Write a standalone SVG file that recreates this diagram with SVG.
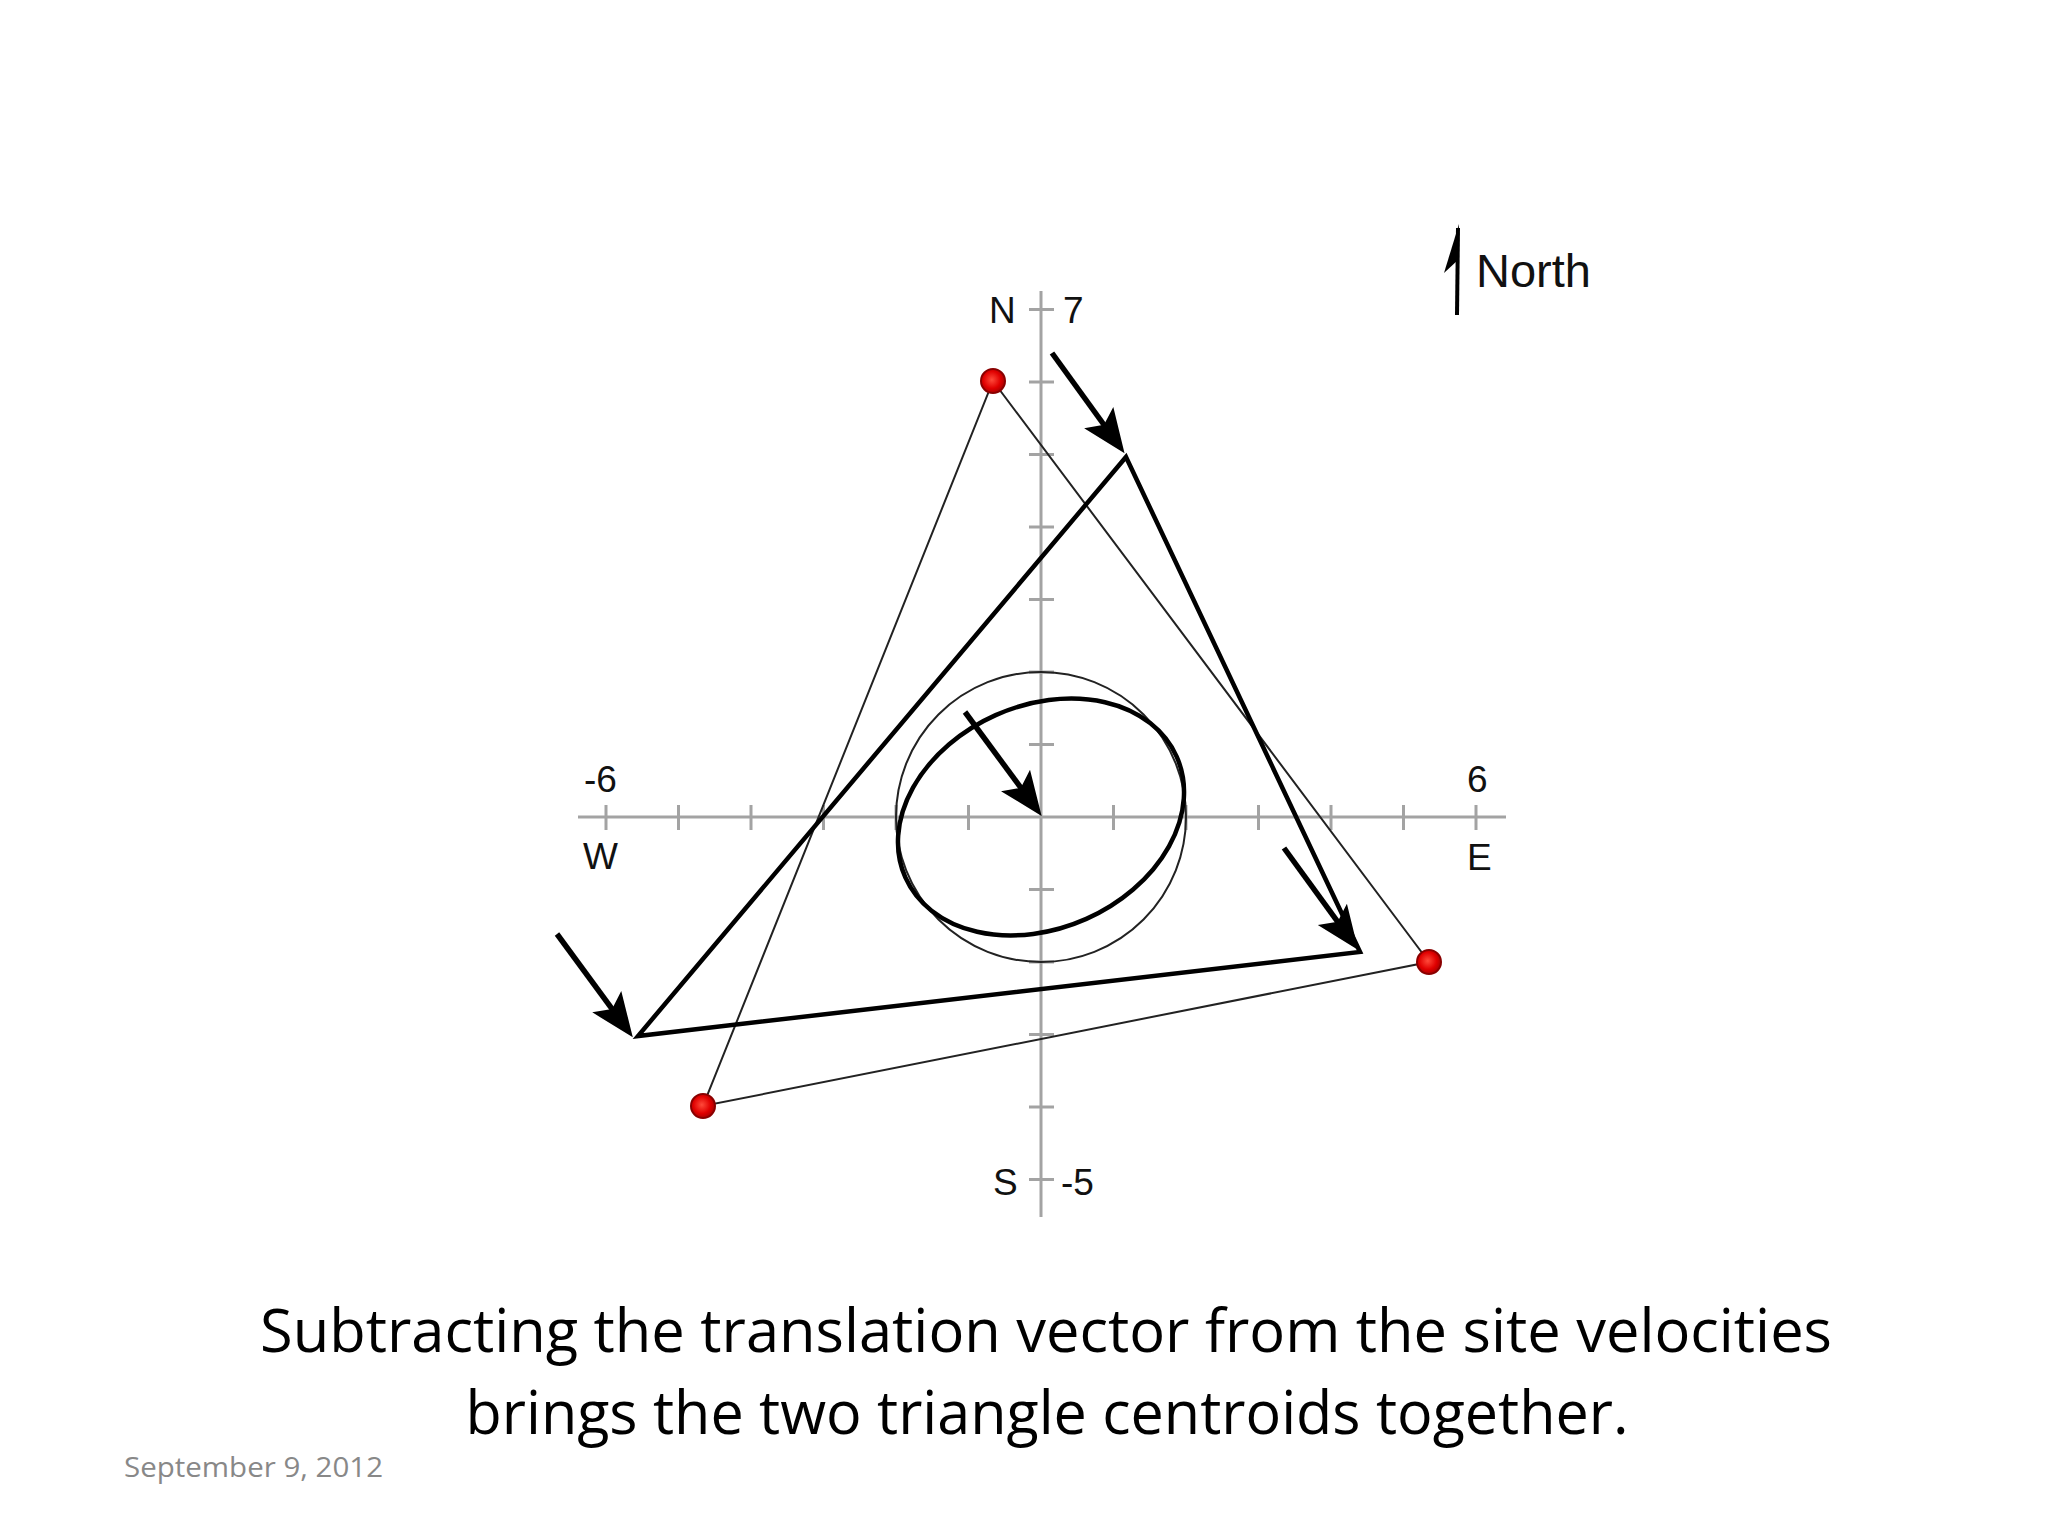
<svg xmlns="http://www.w3.org/2000/svg" width="2048" height="1536" viewBox="0 0 2048 1536">
<style>
.axis{stroke:#a3a3a3;stroke-width:3;fill:none}
.lbl{font-family:"Liberation Sans",Arial,sans-serif;font-size:37px;fill:#111}
.thin{stroke:#222;stroke-width:2;fill:none}
.thick{stroke:#000;stroke-width:4.5;fill:none;stroke-linejoin:miter}
.arr{stroke:#000;stroke-width:5.5;fill:none;marker-end:url(#ah)}
.dot{fill:url(#rg);stroke:#8a0000;stroke-width:2}
.cap{font-family:"Open Sans","Noto Sans",sans-serif;font-size:60px;fill:#000}
</style>
<defs>
<marker id="ah" markerUnits="userSpaceOnUse" viewBox="-50 -25 70 50" markerWidth="70" markerHeight="50" refX="-12" refY="0" orient="auto">
<path d="M0,0 L-44,-18 L-35,0 L-44,18 Z" fill="#000"/>
</marker>
<radialGradient id="rg" cx="0.45" cy="0.45" r="0.6">
<stop offset="0" stop-color="#ff4a3a"/>
<stop offset="0.6" stop-color="#e00000"/>
<stop offset="1" stop-color="#a00000"/>
</radialGradient>
</defs>
<rect width="2048" height="1536" fill="#fff"/>
<g id="axes">
<line class="axis" x1="578" y1="817" x2="1506" y2="817"/>
<line class="axis" x1="1041" y1="291" x2="1041" y2="1217"/>
<path class="axis" d="M606,805v25 M678.5,805v25 M751,805v25 M823.5,805v25 M896,805v25 M968.5,805v25 M1113.5,805v25 M1186,805v25 M1258.5,805v25 M1331,805v25 M1403.5,805v25 M1476,805v25"/>
<path class="axis" d="M1029,309.5h25 M1029,382h25 M1029,454.5h25 M1029,527h25 M1029,599.5h25 M1029,672h25 M1029,744.5h25 M1029,889.5h25 M1029,962h25 M1029,1034.5h25 M1029,1107h25 M1029,1179.5h25"/>
<text class="lbl" x="989" y="323">N</text>
<text class="lbl" x="1063" y="323">7</text>
<text class="lbl" x="584" y="792">-6</text>
<text class="lbl" x="583" y="869">W</text>
<text class="lbl" x="1467" y="792">6</text>
<text class="lbl" x="1467" y="870">E</text>
<text class="lbl" x="993" y="1195">S</text>
<text class="lbl" x="1061" y="1195">-5</text>
</g>
<g id="north">
<line x1="1457" y1="315" x2="1458" y2="228" stroke="#000" stroke-width="4"/>
<polygon points="1459,224 1444,273 1458,260" fill="#000"/>
<text x="1476" y="287" font-family="Liberation Sans,Arial,sans-serif" font-size="47" fill="#111">North</text>
</g>
<g id="circles">
<circle class="thin" cx="1041" cy="817" r="145"/>
<ellipse class="thick" cx="1041" cy="817" rx="148.5" ry="111.5" transform="rotate(-24 1041 817)"/>
</g>
<g id="thin-triangle">
<polygon class="thin" points="993,381 1429,962 703,1106"/>
</g>
<g id="thick-triangle">
<polygon class="thick" points="1126,457 1360,952 638,1036"/>
</g>
<g id="connectors">
<line class="arr" x1="1052" y1="353" x2="1117.5" y2="443.5"/>
<line class="arr" x1="965" y1="712" x2="1034.5" y2="806.3"/>
<line class="arr" x1="557" y1="934" x2="625.7" y2="1027.5"/>
<line class="arr" x1="1284" y1="848" x2="1351.2" y2="940.3"/>
</g>
<g id="sites">
<circle class="dot" cx="993" cy="381" r="12"/>
<circle class="dot" cx="1429" cy="962" r="12"/>
<circle class="dot" cx="703" cy="1106" r="12"/>
</g>
<text class="cap" x="1046" y="1352" text-anchor="middle" textLength="1572" lengthAdjust="spacingAndGlyphs">Subtracting the translation vector from the site velocities</text>
<text class="cap" x="1047" y="1434" text-anchor="middle" textLength="1163" lengthAdjust="spacingAndGlyphs">brings the two triangle centroids together.</text>
<text x="124" y="1477" font-family="Open Sans,Noto Sans,sans-serif" font-size="28" fill="#888" textLength="259" lengthAdjust="spacingAndGlyphs">September 9, 2012</text>
</svg>
